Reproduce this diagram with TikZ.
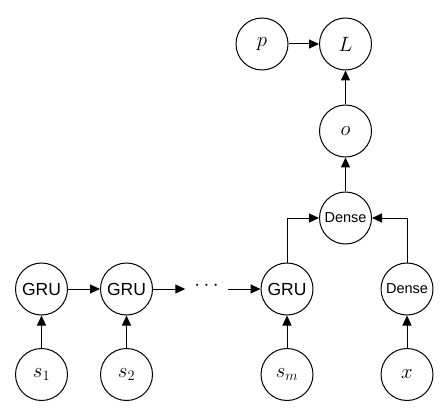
\documentclass[tikz,border=0pt]{standalone}
\usepackage{fontspec}
\newfontfamily\arialfont{Liberation Sans}
\usetikzlibrary{arrows.meta}
\begin{document}
\begin{tikzpicture}[x=1pt,y=-1pt,
  cnode/.style={draw,circle,minimum size=52pt,inner sep=0pt,line width=1pt},
  gru/.style={cnode,font=\arialfont\fontsize{17.5}{17.5}\selectfont},
  dense/.style={cnode,font=\arialfont\fontsize{14.5}{14.5}\selectfont},
  mnode/.style={cnode,font=\fontsize{22}{22}\selectfont},
  conn/.style={line width=1pt,-{Triangle[length=10pt,width=9pt]}}]
\useasboundingbox (0,0) rectangle (443,419);
\node[mnode] (s1) at (41.5,374.5) {$s_1$};
\node[mnode] (s2) at (126.5,374.5) {$s_2$};
\node[mnode] (sm) at (287,374.5) {$s_m$};
\node[mnode] (x) at (407,374.5) {$x$};
\node[gru] (g1) at (41.5,289) {GRU};
\node[gru] (g2) at (126.5,289) {GRU};
\node[gru] (g3) at (287,289) {GRU};
\node[dense] (d2) at (407,289) {Dense};
\node[inner sep=0pt,minimum width=42pt,font=\fontsize{22}{22}\selectfont] (dots) at (206.5,286) {$\cdots$};
\node[dense] (d1) at (345.5,218) {Dense};
\node[mnode] (o) at (345.5,131) {$o$};
\node[mnode] (L) at (345.5,44) {$L$};
\node[mnode] (p) at (262,44) {$p$};
\draw[conn] (s1) -- (g1);
\draw[conn] (s2) -- (g2);
\draw[conn] (sm) -- (g3);
\draw[conn] (x) -- (d2);
\draw[conn] (g1) -- (g2);
\draw[conn] (g2.east) -- (dots.west |- g2.east);
\draw[conn] (dots.east |- g3.west) -- (g3.west);
\draw[conn] (g3.north) |- (d1.west);
\draw[conn] (d2.north) |- (d1.east);
\draw[conn] (d1) -- (o);
\draw[conn] (o) -- (L);
\draw[conn] (p) -- (L);
\end{tikzpicture}
\end{document}
